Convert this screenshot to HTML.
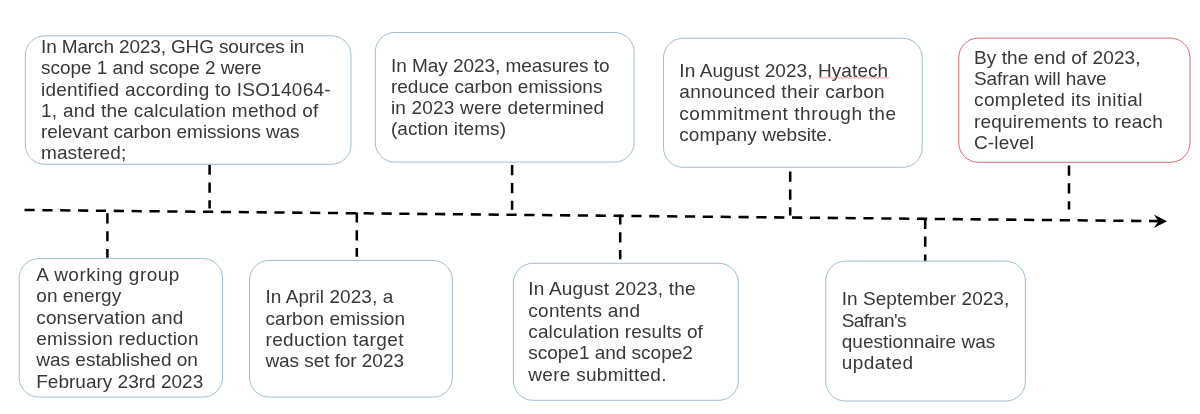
<!DOCTYPE html>
<html lang="en">
<head>
<meta charset="utf-8">
<title>Carbon reduction timeline 2023</title>
<style>
html,body{margin:0;padding:0;background:#fff;}
body{width:1200px;height:414px;position:relative;overflow:hidden;font-family:"Liberation Sans",sans-serif;font-size:19px;color:#383838;}
.box{position:absolute;box-sizing:border-box;border-radius:19.5px;}
rect{fill:#fff;stroke:#a0c0d2;stroke-width:1;stroke-dasharray:none;}
rect.red{stroke:#d26c72;}
.box p{margin:0;position:absolute;top:0;white-space:nowrap;will-change:transform;}
.ln{display:block;position:absolute;left:0;white-space:nowrap;line-height:21px;height:21px;}
svg{position:absolute;left:0;top:0;}
</style>
</head>
<body>

<svg width="1200" height="414" viewBox="0 0 1200 414" fill="none" stroke="#000" stroke-width="2.55" stroke-dasharray="10.2 7.65">
<line x1="24.5" y1="210.00" x2="1160.7" y2="221.14"/>
<line x1="209.6" y1="164.6" x2="209.6" y2="208.6"/>
<line x1="107.4" y1="213.3" x2="107.4" y2="257.8"/>
<line x1="356.8" y1="212.4" x2="356.8" y2="256.8"/>
<line x1="512.1" y1="165.1" x2="512.1" y2="209.8"/>
<line x1="620.2" y1="214.4" x2="620.2" y2="259.2"/>
<line x1="790.2" y1="171.6" x2="790.2" y2="215.6"/>
<line x1="925.2" y1="218.7" x2="925.2" y2="263.0"/>
<line x1="1069.0" y1="165.5" x2="1069.0" y2="209.5"/>
<polygon points="1167.0,221.2 1153.9,214.4 1158.4,221.2 1153.9,227.9" fill="#000" stroke="none"/>
<rect x="25.3" y="35.8" width="325.7" height="128.5" rx="19.5" ry="19.5"/>
<rect x="375.3" y="32.5" width="258.8" height="129.6" rx="19.5" ry="19.5"/>
<rect x="663.5" y="38.3" width="258.7" height="129.0" rx="19.5" ry="19.5"/>
<rect class="red" x="958.8" y="38.1" width="231.2" height="124.2" rx="19.5" ry="19.5"/>
<rect x="19.2" y="258.6" width="203.4" height="138.5" rx="19.5" ry="19.5"/>
<rect x="249.5" y="260.5" width="202.9" height="136.6" rx="19.5" ry="19.5"/>
<rect x="513.4" y="263.3" width="224.9" height="137.0" rx="19.5" ry="19.5"/>
<rect x="825.7" y="261.2" width="199.7" height="139.8" rx="19.5" ry="19.5"/>
</svg>
<div class="box" style="left:25px;top:35px;width:326px;height:130px;">
<p style="left:16px;transform:translateX(0.00px);">
<span class="ln" style="top:1px;letter-spacing:-0.137px;">In March 2023, GHG sources in</span>
<span class="ln" style="top:22px;letter-spacing:-0.050px;">scope 1 and scope 2 were</span>
<span class="ln" style="top:44px;letter-spacing:0.236px;">identified according to ISO14064-</span>
<span class="ln" style="top:65px;letter-spacing:0.259px;">1, and the calculation method of</span>
<span class="ln" style="top:86px;letter-spacing:-0.042px;">relevant carbon emissions was</span>
<span class="ln" style="top:107px;letter-spacing:0.085px;">mastered;</span>
</p></div>
<div class="box" style="left:375px;top:32px;width:260px;height:131px;">
<p style="left:15px;transform:translateX(0.90px);">
<span class="ln" style="top:23px;letter-spacing:-0.043px;">In May 2023, measures to</span>
<span class="ln" style="top:44px;letter-spacing:0.015px;">reduce carbon emissions</span>
<span class="ln" style="top:65px;letter-spacing:0.186px;">in 2023 were determined</span>
<span class="ln" style="top:86px;letter-spacing:0.082px;">(action items)</span>
</p></div>
<div class="box" style="left:663px;top:38px;width:260px;height:130px;">
<p style="left:16px;transform:translateX(0.30px);">
<span class="ln" style="top:22px;letter-spacing:0.084px;">In August 2023, Hyatech</span>
<span class="ln" style="top:43px;letter-spacing:0.272px;">announced their carbon</span>
<span class="ln" style="top:65px;letter-spacing:0.564px;">commitment through the</span>
<span class="ln" style="top:86px;letter-spacing:0.059px;">company website.</span>
</p></div>
<div class="box red" style="left:958px;top:38px;width:232px;height:125px;">
<p style="left:16px;transform:translateX(0.00px);">
<span class="ln" style="top:9px;letter-spacing:0.098px;">By the end of 2023,</span>
<span class="ln" style="top:30px;letter-spacing:-0.097px;">Safran will have</span>
<span class="ln" style="top:51px;letter-spacing:0.395px;">completed its initial</span>
<span class="ln" style="top:73px;letter-spacing:0.195px;">requirements to reach</span>
<span class="ln" style="top:94px;letter-spacing:0.135px;">C-level</span>
</p></div>
<div class="box" style="left:19px;top:258px;width:204px;height:140px;">
<p style="left:17px;transform:translateX(0.25px);">
<span class="ln" style="top:6px;letter-spacing:0.493px;">A working group</span>
<span class="ln" style="top:27px;letter-spacing:0.061px;">on energy</span>
<span class="ln" style="top:49px;letter-spacing:0.149px;">conservation and</span>
<span class="ln" style="top:70px;letter-spacing:0.224px;">emission reduction</span>
<span class="ln" style="top:91px;letter-spacing:0.002px;">was established on</span>
<span class="ln" style="top:113px;letter-spacing:0.005px;">February 23rd 2023</span>
</p></div>
<div class="box" style="left:249px;top:260px;width:204px;height:138px;">
<p style="left:16px;transform:translateX(0.40px);">
<span class="ln" style="top:26px;letter-spacing:0.072px;">In April 2023, a</span>
<span class="ln" style="top:48px;letter-spacing:0.096px;">carbon emission</span>
<span class="ln" style="top:69px;letter-spacing:0.404px;">reduction target</span>
<span class="ln" style="top:90px;letter-spacing:-0.057px;">was set for 2023</span>
</p></div>
<div class="box" style="left:513px;top:263px;width:226px;height:138px;">
<p style="left:15px;transform:translateX(0.30px);">
<span class="ln" style="top:15px;letter-spacing:0.196px;">In August 2023, the</span>
<span class="ln" style="top:37px;letter-spacing:0.260px;">contents and</span>
<span class="ln" style="top:58px;letter-spacing:0.116px;">calculation results of</span>
<span class="ln" style="top:79px;letter-spacing:-0.019px;">scope1 and scope2</span>
<span class="ln" style="top:101px;letter-spacing:0.288px;">were submitted.</span>
</p></div>
<div class="box" style="left:825px;top:261px;width:201px;height:140px;">
<p style="left:16px;transform:translateX(0.75px);">
<span class="ln" style="top:27px;letter-spacing:0.035px;">In September 2023,</span>
<span class="ln" style="top:49px;letter-spacing:-0.637px;">Safran's</span>
<span class="ln" style="top:70px;letter-spacing:0.026px;">questionnaire was</span>
<span class="ln" style="top:91px;letter-spacing:0.443px;">updated</span>
</p></div>
<svg class="squiggle" width="1200" height="414" viewBox="0 0 1200 414" style="pointer-events:none"><polyline points="818.5,77.5 820.1,78.3 821.7,77.5 823.3,78.3 824.9,77.5 826.5,78.3 828.1,77.5 829.7,78.3 831.3,77.5 832.9,78.3 834.5,77.5 836.1,78.3 837.7,77.5 839.3,78.3 840.9,77.5 842.5,78.3 844.1,77.5 845.7,78.3 847.3,77.5 848.9,78.3 850.5,77.5 852.1,78.3 853.7,77.5 855.3,78.3 856.9,77.5 858.5,78.3 860.1,77.5 861.7,78.3 863.3,77.5 864.9,78.3 866.5,77.5 868.1,78.3 869.7,77.5 871.3,78.3 872.9,77.5 874.5,78.3 876.1,77.5 877.7,78.3 879.3,77.5 880.9,78.3 882.5,77.5 884.1,78.3 885.7,77.5 887.3,78.3 888.9,77.5" fill="none" stroke="#e2757b" stroke-width="0.8"/></svg>
</body></html>
